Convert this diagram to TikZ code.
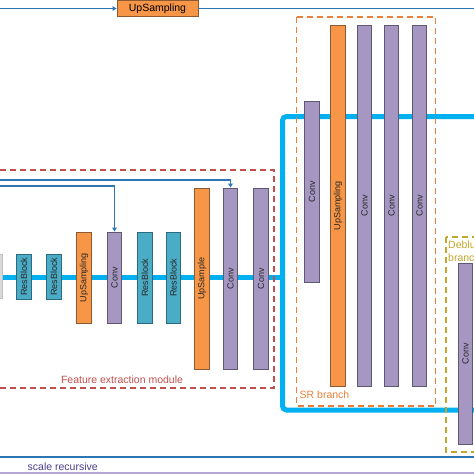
\documentclass[tikz,border=0pt]{standalone}
\usepackage{fontspec}
\setmainfont{Liberation Sans}
\usetikzlibrary{backgrounds,arrows.meta}
\definecolor{barpurple}{HTML}{A597C2}
\definecolor{barpurpleb}{HTML}{5E5870}
\definecolor{barorange}{HTML}{F79646}
\definecolor{barorangeb}{HTML}{8C5A32}
\definecolor{barteal}{HTML}{4BACC6}
\definecolor{bartealb}{HTML}{2C6A80}
\definecolor{cyanline}{HTML}{00B0F0}
\definecolor{thinblue}{HTML}{2E75B6}
\definecolor{fered}{HTML}{C0504D}
\definecolor{srorange}{HTML}{E8803A}
\definecolor{dbolive}{HTML}{C4A62C}
\definecolor{recpurple}{HTML}{4B3D8F}
\definecolor{stripe}{HTML}{B4A7D6}
\begin{document}
\begin{tikzpicture}[x=1pt,y=-1pt,
  bar/.style={draw, line width=0.8pt, rotate=90, minimum height=14.5pt, inner sep=0pt,
    font=\fontsize{9}{9}\selectfont, text=black!85},
  convbar/.style={bar, fill=barpurple, draw=barpurpleb},
  upbar/.style={bar, fill=barorange, draw=barorangeb},
  resbar/.style={bar, fill=barteal, draw=bartealb},
  backbone/.style={cyanline, line width=5pt},
  thinline/.style={thinblue, line width=1.2pt},
  tip/.style={-{Triangle[length=4pt,width=4.5pt]}},
  frame/.style={dashed, line width=1.5pt, dash pattern=on 6pt off 4pt},
  lab/.style={font=\fontsize{10.5}{13}\selectfont, inner sep=0pt}
]
\useasboundingbox (0,0) rectangle (474,474);
\clip (0,0) rectangle (474,474);

% coordinates of the backbone
\coordinate (inL) at (-6,277.5);
\coordinate (jA) at (282.5,277.5);
\coordinate (jT) at (282.5,116.5);
\coordinate (jB) at (282.5,410);
\coordinate (outT) at (482,116.5);
\coordinate (outB) at (482,410);
\coordinate (tl) at (-6,8.5);
\coordinate (tr) at (482,8.5);
\coordinate (a1) at (-6,180);
\coordinate (a2) at (-6,186);

% backbone
\draw[backbone] (inL) -- (jA);
\draw[backbone, rounded corners=4pt] (outT) -- (jT) -- (jB) -- (outB);

% frames
\draw[frame, fered] (-12,170) rectangle (274,388);
\draw[frame, srorange] (296.5,17) rectangle (435.5,406);
\draw[frame, dbolive] (446,237) rectangle (492,452);

% feature extraction bars
\node[bar, fill=gray!30, draw=gray!50, minimum width=44pt] (gb) at (-4.5,276) {};
\node[resbar, minimum width=45pt] (rb1) at (24,276.5) {ResBlock};
\node[resbar, minimum width=45pt] (rb2) at (54,276.5) {ResBlock};
\node[upbar, minimum width=91pt] (up1) at (84,277.5) {UpSampling};
\node[convbar, minimum width=91pt] (cv1) at (114.5,277.5) {Conv};
\node[resbar, minimum width=91pt] (rb3) at (145,277.5) {ResBlock};
\node[resbar, minimum width=91pt] (rb4) at (173.5,277.5) {ResBlock};
\node[upbar, minimum width=181pt] (up2) at (202,278.5) {UpSample};
\node[convbar, minimum width=181pt] (cv2) at (230.5,278.5) {Conv};
\node[convbar, minimum width=181pt] (cv3) at (261,278.5) {Conv};

% SR branch bars
\node[convbar, minimum width=181pt] (cv4) at (312,191.5) {Conv};
\node[upbar, minimum width=361pt] (up3) at (338,205.5) {UpSampling};
\node[convbar, minimum width=361pt] (cv5) at (364.5,205.5) {Conv};
\node[convbar, minimum width=361pt] (cv6) at (391.5,205.5) {Conv};
\node[convbar, minimum width=361pt] (cv7) at (419.5,205.5) {Conv};

% Deblur branch bar
\node[convbar, minimum width=181pt] (cv8) at (465.5,353.5) {Conv};

% top upsampling
\node[draw=barorangeb, fill=barorange, line width=0.8pt, minimum width=81pt, minimum height=16pt,
  inner sep=0pt, font=\fontsize{10.5}{10.5}\selectfont] (topup) at (157.5,8.5) {UpSampling};
\draw[thinline, tip] (tl) -- (topup.west);
\draw[thinline] (topup.east) -- (tr);

% skip arrows
\draw[thinline, tip] (a1) -| (cv2.east);
\draw[thinline, tip] (a2) -| (cv1.east);

% labels
\node[lab, text=fered] (felab) at (122,380) {Feature extraction module};
\node[lab, text=srorange, anchor=west] (srlab) at (299.5,395) {SR branch};
\node[lab, text=dbolive, anchor=north west, align=left] (dblab) at (448,241) {Deblur\\branch};
\node[lab, text=recpurple, anchor=west] (reclab) at (27.5,467) {scale recursive};

% bottom
\draw[thinline, line width=1.3pt] (-2,457) -- (476,457);
\fill[stripe] (-2,472) rectangle (476,476);
\end{tikzpicture}
\end{document}
